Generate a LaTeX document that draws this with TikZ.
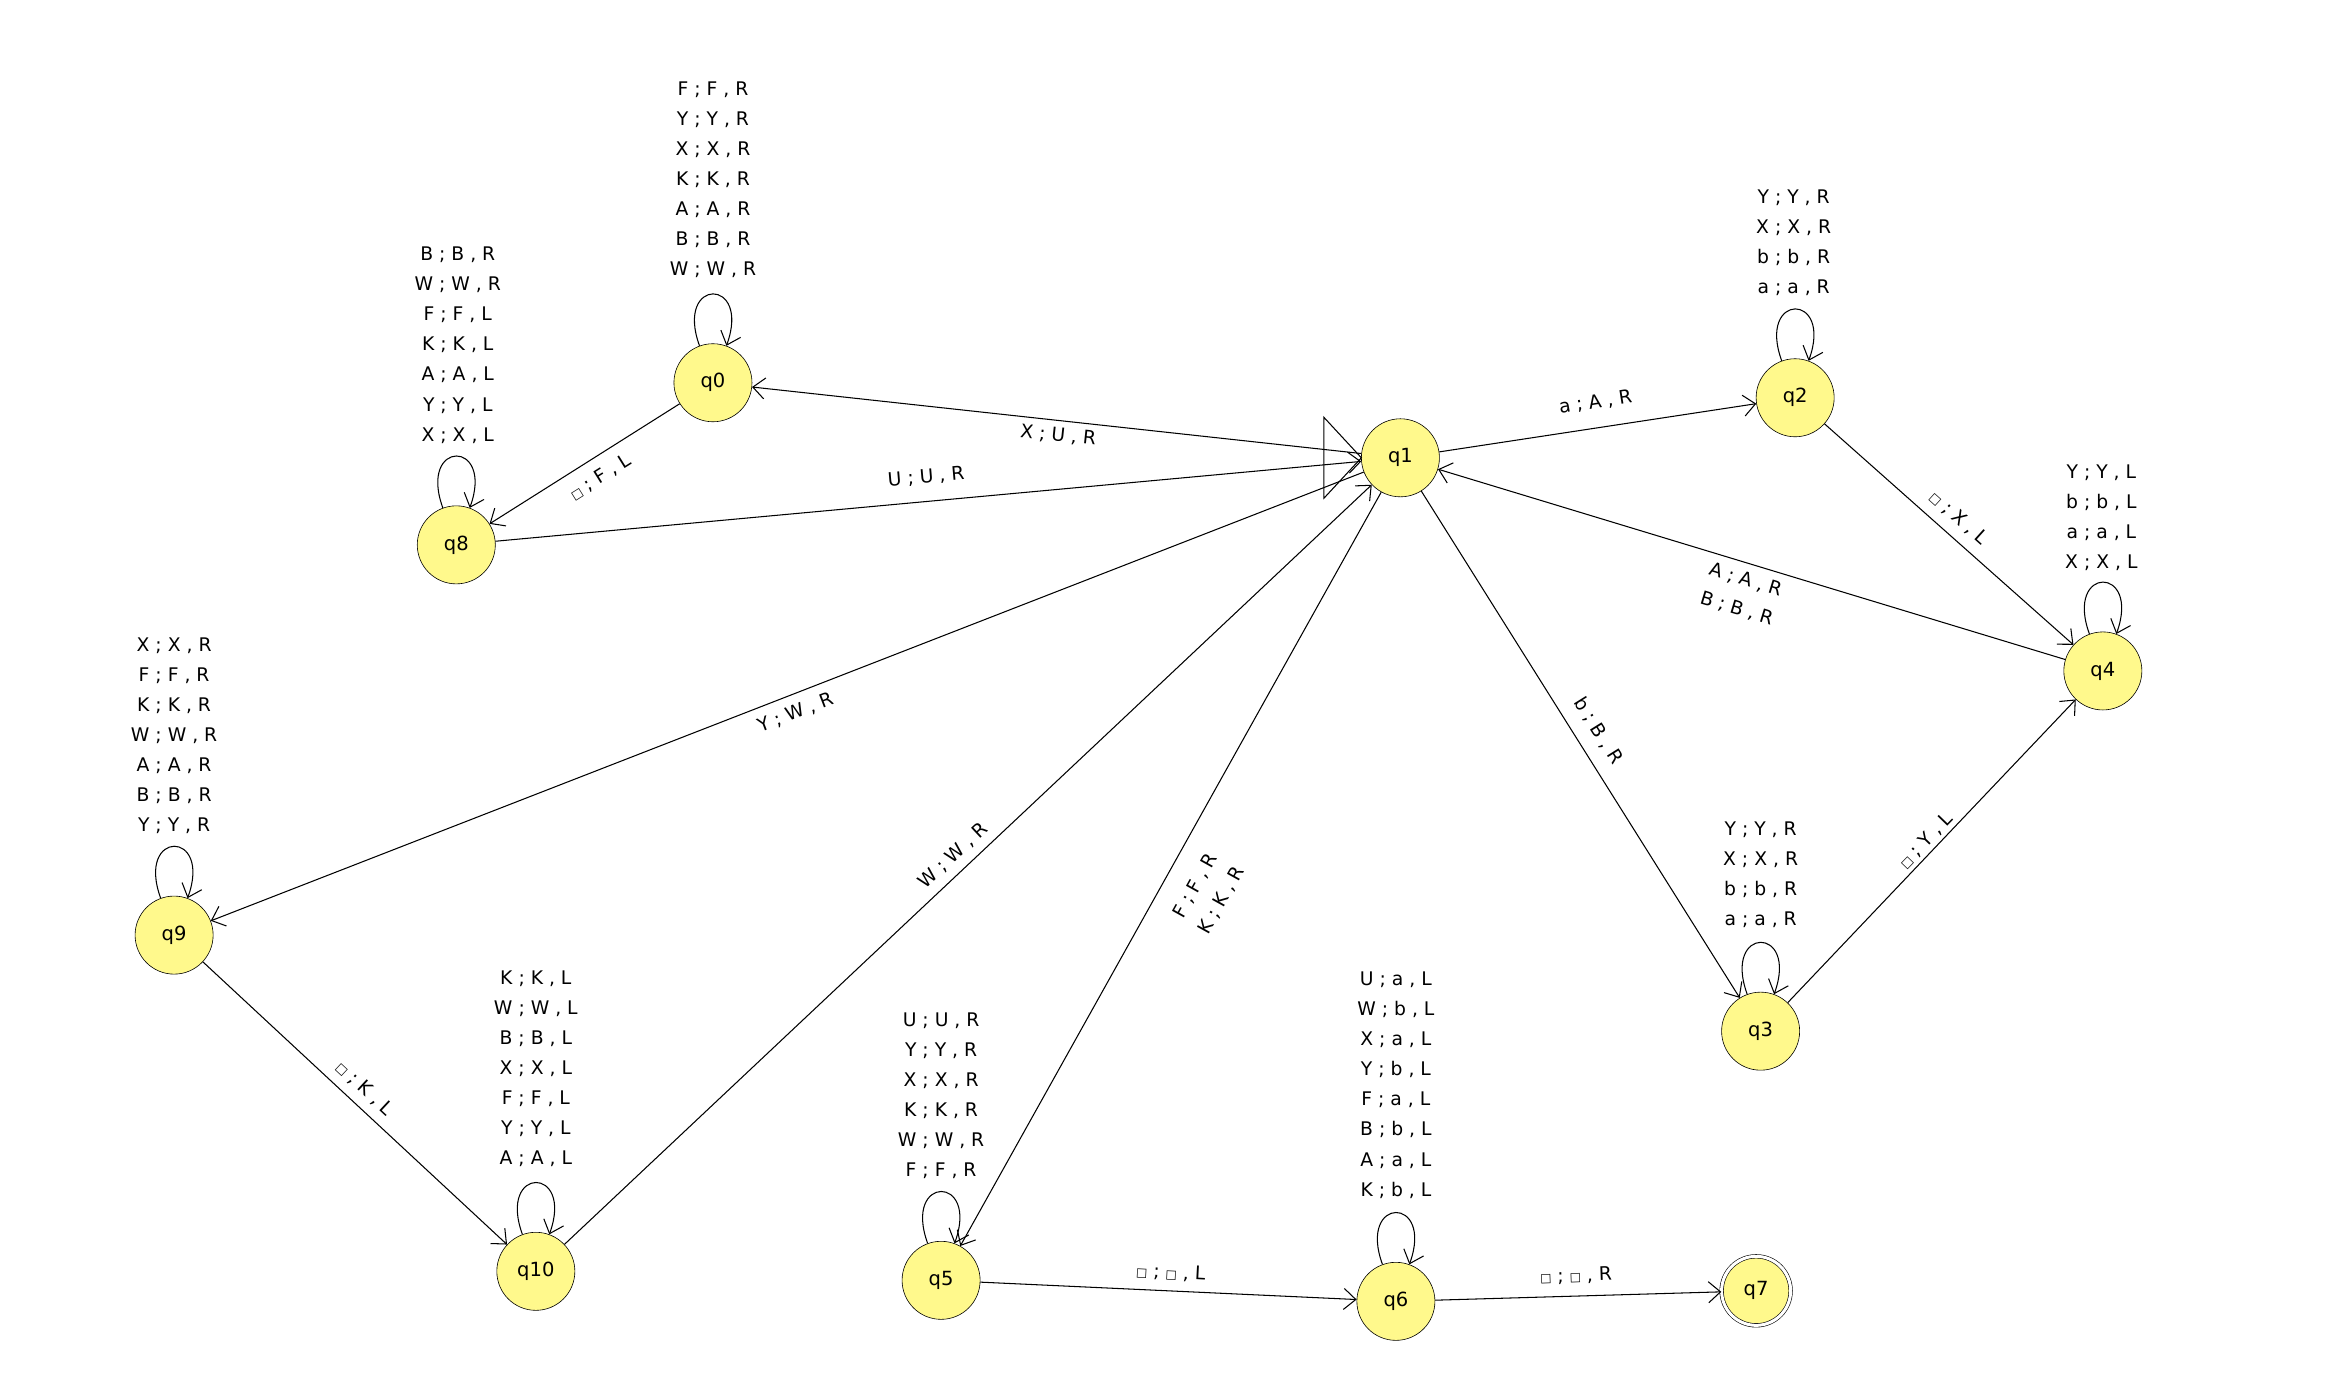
\documentclass[tikz,border=0pt]{standalone}
\usepackage{fontspec}
\setmainfont{DejaVu Sans}
\usetikzlibrary{arrows.meta}
\newcommand{\blk}{{\fontsize{8}{8}\selectfont □}}
\begin{document}
\begin{tikzpicture}[x=1pt,y=-1pt,
  st/.style={circle,draw,fill=yellow!45,minimum size=52pt,inner sep=0pt,font=\fontsize{13}{16}\selectfont},
  acc/.style={st,double,double distance=2pt,minimum size=46pt},
  tr/.style={-{Straight Barb[length=8pt,width=14pt]},line width=0.7pt},
  lp/.style={tr,out=110,in=70,looseness=7},
  lb/.style={font=\fontsize{12.5}{20}\selectfont,align=center,inner sep=1pt}]
\useasboundingbox (0,0) rectangle (1567,921);
\node[st] (q0) at (475,255) {q0};
\node[st] (q1) at (933,305) {q1};
\node[st] (q2) at (1196,265) {q2};
\node[st] (q4) at (1401,447) {q4};
\node[st] (q3) at (1173,687) {q3};
\node[st] (q8) at (304,363) {q8};
\node[st] (q9) at (116,623) {q9};
\node[st] (q10) at (357,847) {q10};
\node[st] (q5) at (627,853) {q5};
\node[st] (q6) at (930,867) {q6};
\node[acc] (q7) at (1170,860) {q7};
\draw[line width=0.7pt] (907,305) -- (882,278) -- (882,332) -- cycle;
% edges
\draw[tr] (q1) -- (q0);
\draw[tr] (q8) -- (q1);
\draw[tr] (q0) -- (q8);
\draw[tr] (q1) -- (q2);
\draw[tr] (q2) -- (q4);
\draw[tr] (q4) -- (q1);
\draw[tr] (q1) -- (q3);
\draw[tr] (q3) -- (q4);
\draw[tr] (q1) -- (q9);
\draw[tr] (q9) -- (q10);
\draw[tr] (q10) -- (q1);
\draw[tr] (q1) -- (q5);
\draw[tr] (q5) -- (q6);
\draw[tr] (q6) -- (q7);
\foreach \n in {q0,q8,q2,q4,q3,q9,q10,q5,q6} \draw[lp] (\n) to (\n);
% edge labels
\node[lb,rotate=-6] at (705,290) {X ; U , R};
\node[lb,rotate=5] at (617,318) {U ; U , R};
\node[lb,rotate=32] at (400,318) {\blk{} ; F , L};
\node[lb,rotate=9] at (1063,268) {a ; A , R};
\node[lb,rotate=-42] at (1305,345) {\blk{} ; X , L};
\node[lb,rotate=-17] at (1160,396) {A ; A , R\\B ; B , R};
\node[lb,rotate=-58] at (1065,487) {b ; B , R};
\node[lb,rotate=46] at (1283,560) {\blk{} ; Y , L};
\node[lb,rotate=21] at (530,475) {Y ; W , R};
\node[lb,rotate=-43] at (243,725) {\blk{} ; K , L};
\node[lb,rotate=43] at (635,570) {W ; W , R};
\node[lb,rotate=61] at (805,595) {F ; F , R\\K ; K , R};
\node[lb,rotate=-3] at (780,848) {\blk{} ; \blk{} , L};
\node[lb,rotate=2] at (1050,850) {\blk{} ; \blk{} , R};
% loop labels
\node[lb] at (475,120) {F ; F , R\\Y ; Y , R\\X ; X , R\\K ; K , R\\A ; A , R\\B ; B , R\\W ; W , R};
\node[lb] at (305,230) {B ; B , R\\W ; W , R\\F ; F , L\\K ; K , L\\A ; A , L\\Y ; Y , L\\X ; X , L};
\node[lb] at (1195,162) {Y ; Y , R\\X ; X , R\\b ; b , R\\a ; a , R};
\node[lb] at (1400,345) {Y ; Y , L\\b ; b , L\\a ; a , L\\X ; X , L};
\node[lb] at (1173,583) {Y ; Y , R\\X ; X , R\\b ; b , R\\a ; a , R};
\node[lb] at (116,490) {X ; X , R\\F ; F , R\\K ; K , R\\W ; W , R\\A ; A , R\\B ; B , R\\Y ; Y , R};
\node[lb] at (357,712) {K ; K , L\\W ; W , L\\B ; B , L\\X ; X , L\\F ; F , L\\Y ; Y , L\\A ; A , L};
\node[lb] at (627,730) {U ; U , R\\Y ; Y , R\\X ; X , R\\K ; K , R\\W ; W , R\\F ; F , R};
\node[lb] at (930,723) {U ; a , L\\W ; b , L\\X ; a , L\\Y ; b , L\\F ; a , L\\B ; b , L\\A ; a , L\\K ; b , L};
\end{tikzpicture}
\end{document}
